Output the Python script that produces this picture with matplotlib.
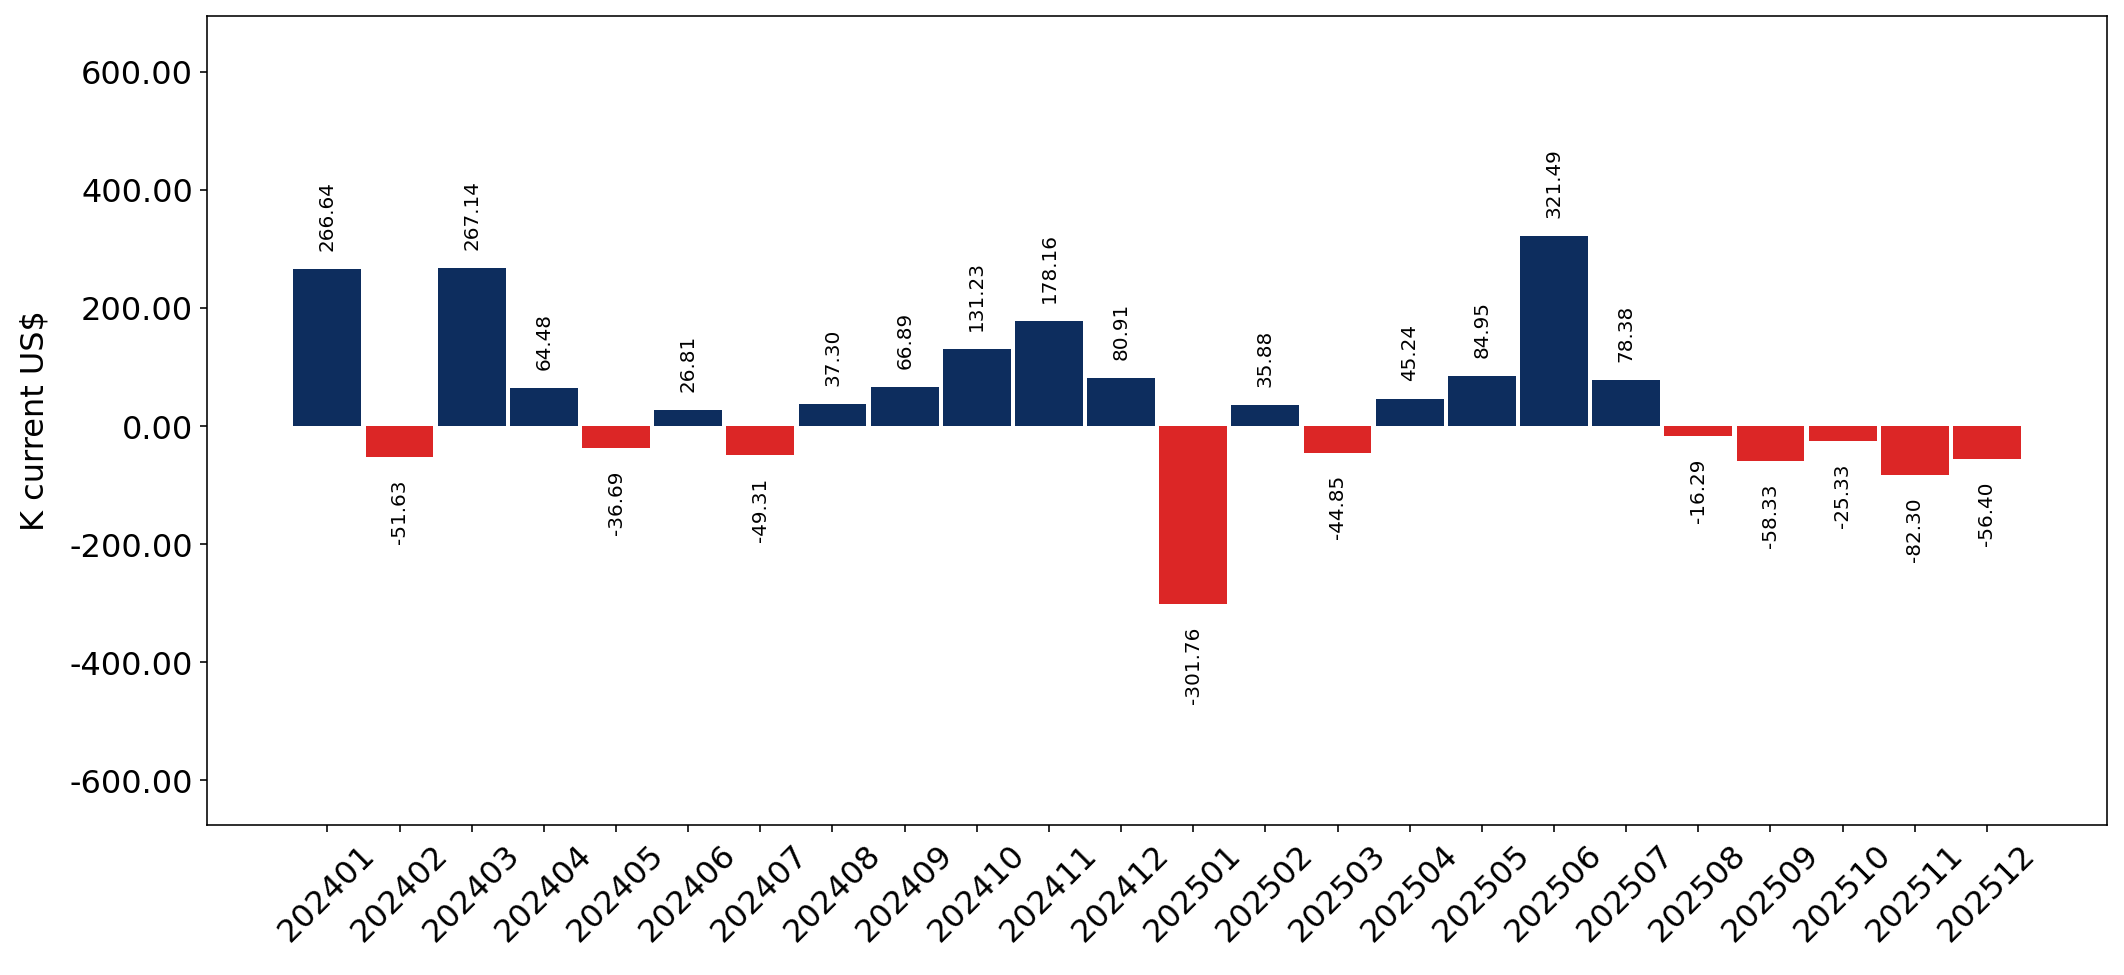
import matplotlib
matplotlib.use("Agg")
import matplotlib.pyplot as plt
import numpy as np

months = ["202401", "202402", "202403", "202404", "202405", "202406",
          "202407", "202408", "202409", "202410", "202411", "202412",
          "202501", "202502", "202503", "202504", "202505", "202506",
          "202507", "202508", "202509", "202510", "202511", "202512"]
values = [266.64, -51.63, 267.14, 64.48, -36.69, 26.81,
          -49.31, 37.30, 66.89, 131.23, 178.16, 80.91,
          -301.76, 35.88, -44.85, 45.24, 84.95, 321.49,
          78.38, -16.29, -58.33, -25.33, -82.30, -56.40]
y_ticks = [-600, -400, -200, 0, 200, 400, 600]
y_label = "K current US$"

POS_COLOR = "#0d2d5e"
NEG_COLOR = "#dc2626"

fig = plt.figure(figsize=(2124.4 / 144, 975.4 / 144), dpi=144)
ax = fig.add_axes([0.0975, 0.1538, 0.9919 - 0.0975, 0.9836 - 0.1538])

x = np.arange(len(months))
colors = [POS_COLOR if v >= 0 else NEG_COLOR for v in values]
ax.bar(x, values, width=0.94, color=colors)

vmin, vmax = min(values), max(values)
rng = vmax - vmin
ax.set_ylim(vmin - 0.6 * rng, vmax + 0.6 * rng)

for xi, v in zip(x, values):
    if v >= 0:
        ax.text(xi, v + 0.05 * rng, f"{v:.2f}", rotation=90, ha="center",
                va="bottom", fontsize=10)
    else:
        ax.text(xi, v - 0.06 * rng, f"{v:.2f}", rotation=90, ha="center",
                va="top", fontsize=10)

ax.set_xticks(x)
ax.set_xticklabels(months, rotation=45, fontsize=16)
ax.set_yticks(y_ticks)
ax.set_yticklabels([f"{t:.2f}" for t in y_ticks], fontsize=16)
ax.set_ylabel(y_label, fontsize=16, labelpad=9.5)

fig.savefig("out.png", dpi=144)
